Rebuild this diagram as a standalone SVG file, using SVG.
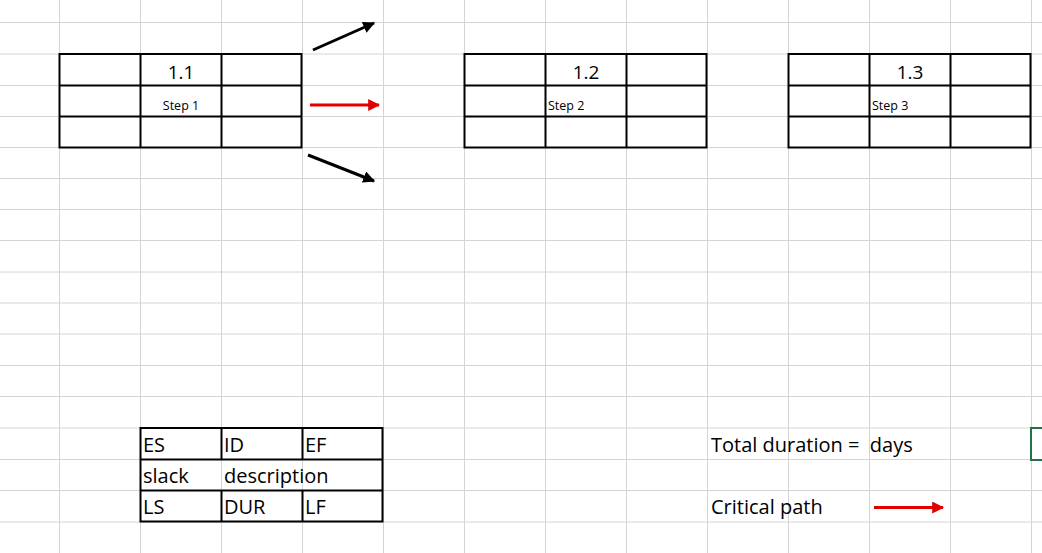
<svg xmlns="http://www.w3.org/2000/svg" width="1042" height="553" viewBox="0 0 1042 553">
<defs>
<style>
.g{stroke:#d4d4d4;stroke-width:1}
.b{fill:none;stroke:#000;stroke-width:2}
.t{font-family:"Open Sans","Liberation Sans",sans-serif;fill:#000}
.ar{stroke:#000;stroke-width:3}
.cr{stroke:#e00000;stroke-width:3}
</style>
<marker id="mk" viewBox="0 0 10 10" refX="9" refY="5" markerWidth="4" markerHeight="4" orient="auto" markerUnits="strokeWidth"><path d="M0,0L10,5L0,10z" fill="#000"/></marker>
<marker id="mr" viewBox="0 0 10 10" refX="9" refY="5" markerWidth="4" markerHeight="4" orient="auto" markerUnits="strokeWidth"><path d="M0,0L10,5L0,10z" fill="#e00000"/></marker>
</defs>
<rect width="1042" height="553" fill="#fff"/>
<g id="grid">
<path class="g" d="M59.5 0V553M140.5 0V553M221.5 0V553M302.5 0V553M383.5 0V553M464.5 0V553M545.5 0V553M626.5 0V553M707.5 0V553M788.5 0V553M869.5 0V553M950.5 0V553M1031.5 0V553"/>
<path class="g" d="M0 22.5H1042M0 54H1042M0 85.5H1042M0 116.5H1042M0 147.5H1042M0 178.5H1042M0 209.5H1042M0 240.5H1042M0 272H1042M0 303H1042M0 334H1042M0 365.5H1042M0 396.5H1042M0 428H1042M0 459.5H1042M0 490.5H1042M0 522H1042"/>
</g>
<g id="n11">
<rect class="b" x="59.5" y="54" width="242" height="93.5"/>
<path class="b" d="M140.5 54V147.5M221.5 54V147.5M59.5 85.5H301.5M59.5 116.5H301.5"/>
<text class="t" x="181" y="79" font-size="19" text-anchor="middle">1.1</text>
<text class="t" x="181" y="110" font-size="12.5" text-anchor="middle">Step 1</text>
</g>
<g id="n12">
<rect class="b" x="464.5" y="54" width="242" height="93.5"/>
<path class="b" d="M545.5 54V147.5M626.5 54V147.5M464.5 85.5H706.5M464.5 116.5H706.5"/>
<text class="t" x="586" y="79" font-size="19" text-anchor="middle">1.2</text>
<text class="t" x="548" y="110" font-size="12.5">Step 2</text>
</g>
<g id="n13">
<rect class="b" x="788.5" y="54" width="242" height="93.5"/>
<path class="b" d="M869.5 54V147.5M950.5 54V147.5M788.5 85.5H1030.5M788.5 116.5H1030.5"/>
<text class="t" x="910" y="79" font-size="19" text-anchor="middle">1.3</text>
<text class="t" x="872" y="110" font-size="12.5">Step 3</text>
</g>
<g id="legend">
<rect class="b" x="140.5" y="428" width="242" height="93.5"/>
<path class="b" d="M221.5 428V459.5M302.5 428V459.5M221.5 490.5V521.5M302.5 490.5V521.5M140.5 459.5H382.5M140.5 490.5H382.5"/>
<g class="t" font-size="20">
<text x="143" y="452">ES</text><text x="224" y="452">ID</text><text x="305" y="452">EF</text>
<text x="143" y="483">slack</text><text x="224" y="483">description</text>
<text x="143" y="514">LS</text><text x="224" y="514">DUR</text><text x="305" y="514">LF</text>
</g>
</g>
<g id="notes" class="t" font-size="20">
<text x="711" y="452" xml:space="preserve">Total duration =  days</text>
<text x="711" y="514">Critical path</text>
</g>
<rect x="1031" y="428" width="14" height="32" fill="none" stroke="#217346" stroke-width="2"/>
<g id="connectors">
<line class="ar" x1="313" y1="50" x2="374" y2="23" marker-end="url(#mk)"/>
<line class="cr" x1="310" y1="105" x2="379" y2="105" marker-end="url(#mr)"/>
<line class="ar" x1="308" y1="155" x2="374" y2="181" marker-end="url(#mk)"/>
<line class="cr" x1="874" y1="507.5" x2="943" y2="507.5" marker-end="url(#mr)"/>
</g>
</svg>
